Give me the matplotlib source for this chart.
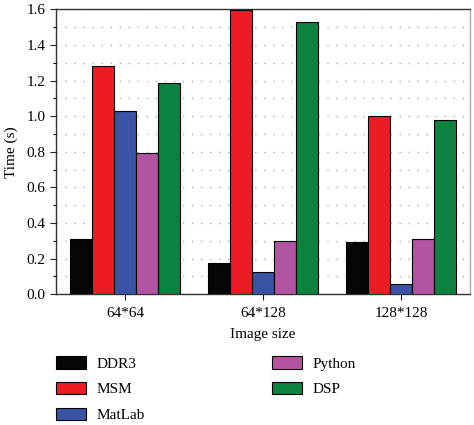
import matplotlib
matplotlib.use('Agg')
import matplotlib.pyplot as plt
import numpy as np
from matplotlib.ticker import MultipleLocator, FormatStrFormatter

# data
image_sizes = ['64*64', '64*128', '128*128']
ddr3 = [0.311, 0.176, 0.292]
msm = [1.282, 1.597, 0.999]
matlab = [1.029, 0.125, 0.056]
python = [0.791, 0.298, 0.311]
dsp = [1.188, 1.531, 0.979]

series = [ddr3, msm, matlab, python, dsp]
names = ['DDR3', 'MSM', 'MatLab', 'Python', 'DSP']
colors = ['#050505', '#ed1c24', '#3a53a4', '#b254a1', '#0c8140']

plt.rcParams['font.family'] = ['Liberation Serif', 'DejaVu Serif']
plt.rcParams['font.size'] = 11

fig = plt.figure(figsize=(4.74, 4.25), dpi=100)
ax = fig.add_axes([0.118, 0.308, 0.874, 0.670])

x = np.arange(len(image_sizes))
width = 0.16
for i, (vals, name, c) in enumerate(zip(series, names, colors)):
    ax.bar(x + (i - 2) * width, vals, width, color=c, edgecolor='black',
           linewidth=0.8, label=name, zorder=3)

ax.set_xlim(-0.5, 2.5)
ax.set_ylim(0, 1.6)
ax.yaxis.set_major_locator(MultipleLocator(0.2))
ax.yaxis.set_minor_locator(MultipleLocator(0.1))
ax.yaxis.set_major_formatter(FormatStrFormatter('%.1f'))
ax.set_xticks(x)
ax.set_xticklabels(image_sizes)
ax.tick_params(axis='both', direction='out', length=4, width=0.8, colors='#222222')
ax.tick_params(axis='y', which='minor', direction='out', length=2.5, width=0.8)
ax.tick_params(axis='x', labelcolor='black', pad=5)
ax.tick_params(axis='y', labelcolor='black')

ax.grid(axis='y', which='both', color='#aaaaaa', linestyle=(0, (1, 5.5)), linewidth=1, zorder=0)
ax.set_axisbelow(True)

for s in ['left', 'bottom', 'top']:
    ax.spines[s].set_linewidth(1.0)
    ax.spines[s].set_color('#333333')
ax.spines['right'].set_color('#aaaaaa')
ax.spines['right'].set_linewidth(1.0)

ax.set_xlabel('Image size', labelpad=6)
ax.set_ylabel('Time (s)', labelpad=6)

handles, labels = ax.get_legend_handles_labels()
fig.legend(handles, labels, loc='upper left', bbox_to_anchor=(0.118, 1 - 356 / 425),
           ncol=2, frameon=False, borderpad=0, borderaxespad=0,
           handlelength=2.0, handleheight=0.9, handletextpad=0.65,
           columnspacing=8.3, labelspacing=0.73)

fig.savefig('out.png', dpi=100)
